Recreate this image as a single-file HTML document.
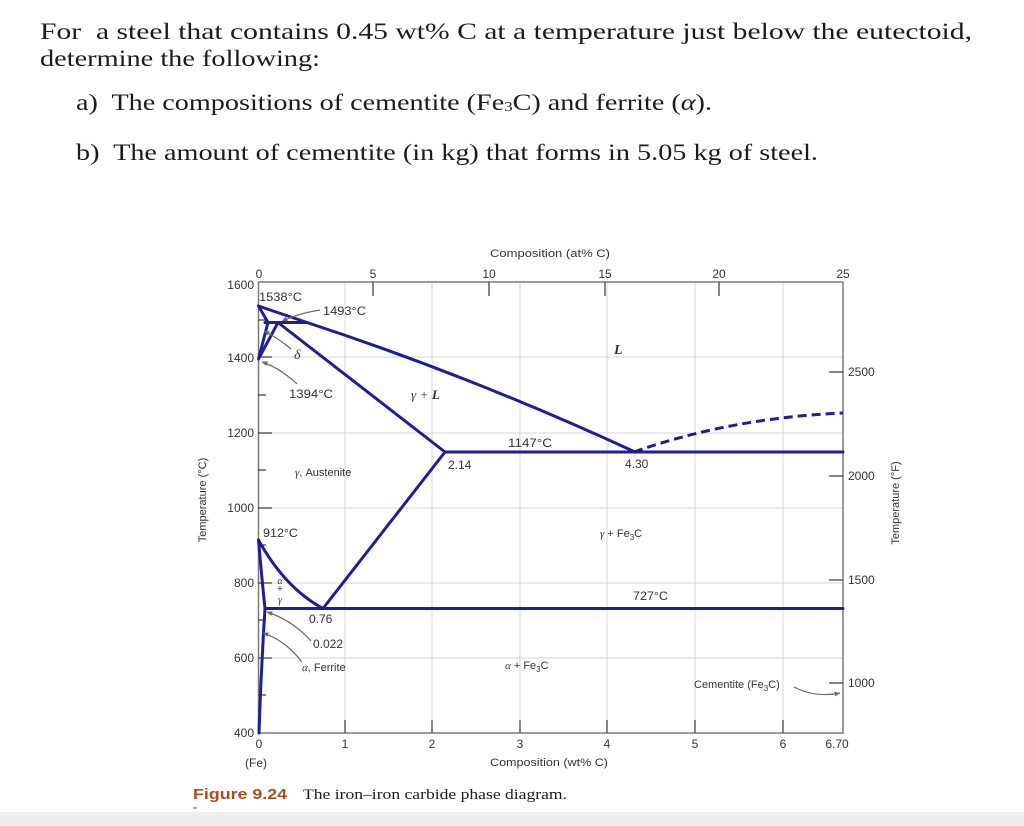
<!DOCTYPE html>
<html><head><meta charset="utf-8"><style>
html,body{margin:0;padding:0;background:#fff;}
svg{display:block;}
text{white-space:pre;}
</style></head><body>
<svg width="1024" height="826" viewBox="0 0 1024 826" xmlns="http://www.w3.org/2000/svg">
<defs>
<marker id="ah" viewBox="0 0 10 10" refX="9" refY="5" markerWidth="6" markerHeight="6" orient="auto-start-reverse" markerUnits="userSpaceOnUse">
<path d="M0,1 L10,5 L0,9 z" fill="#6a6a6a"/>
</marker>
</defs>
<rect width="1024" height="826" fill="#fff"/>
<rect y="812" width="1024" height="14" fill="#efefef"/>

<g font-family="Liberation Serif, serif" font-size="23.5" fill="#1b1b1b">
<text x="40" y="39" textLength="932" lengthAdjust="spacingAndGlyphs">For  a steel that contains 0.45 wt% C at a temperature just below the eutectoid,</text>
<text x="40" y="66" textLength="280" lengthAdjust="spacingAndGlyphs">determine the following:</text>
<text x="76" y="110" textLength="636" lengthAdjust="spacingAndGlyphs">a)  The compositions of cementite (Fe<tspan font-size="14" dy="1">3</tspan><tspan dy="-1">C) and ferrite (</tspan><tspan font-style="italic">α</tspan>).</text>
<text x="76" y="160" textLength="742" lengthAdjust="spacingAndGlyphs">b)  The amount of cementite (in kg) that forms in 5.05 kg of steel.</text>
</g>

<!-- grid -->
<g stroke="#d6d6d6" stroke-width="1">
<line x1="345" y1="282" x2="345" y2="733"/>
<line x1="432" y1="282" x2="432" y2="733"/>
<line x1="520" y1="282" x2="520" y2="733"/>
<line x1="607" y1="282" x2="607" y2="733"/>
<line x1="695" y1="282" x2="695" y2="733"/>
<line x1="783" y1="282" x2="783" y2="733"/>
<line x1="258" y1="357" x2="843" y2="357"/>
<line x1="258" y1="433" x2="843" y2="433"/>
<line x1="258" y1="508" x2="843" y2="508"/>
<line x1="258" y1="583" x2="843" y2="583"/>
<line x1="258" y1="658" x2="843" y2="658"/>
</g>

<!-- axes -->
<rect x="258.5" y="282" width="584.5" height="451" fill="none" stroke="#7a7a7a" stroke-width="1.5"/>

<g stroke="#444" stroke-width="1.3">
<line x1="258" y1="357" x2="272" y2="357"/>
<line x1="258" y1="433" x2="272" y2="433"/>
<line x1="258" y1="508" x2="272" y2="508"/>
<line x1="258" y1="583" x2="272" y2="583"/>
<line x1="258" y1="658" x2="272" y2="658"/>
<line x1="258" y1="320" x2="266" y2="320"/>
<line x1="258" y1="395" x2="266" y2="395"/>
<line x1="258" y1="470" x2="266" y2="470"/>
<line x1="258" y1="545" x2="266" y2="545"/>
<line x1="258" y1="620" x2="266" y2="620"/>
<line x1="258" y1="695" x2="266" y2="695"/>
<line x1="373" y1="282" x2="373" y2="296"/>
<line x1="489" y1="282" x2="489" y2="296"/>
<line x1="605" y1="282" x2="605" y2="296"/>
<line x1="719" y1="282" x2="719" y2="296"/>
<line x1="345" y1="720" x2="345" y2="733"/>
<line x1="432" y1="720" x2="432" y2="733"/>
<line x1="520" y1="720" x2="520" y2="733"/>
<line x1="607" y1="720" x2="607" y2="733"/>
<line x1="695" y1="720" x2="695" y2="733"/>
<line x1="783" y1="720" x2="783" y2="733"/>
<line x1="829" y1="372" x2="843" y2="372"/>
<line x1="829" y1="476" x2="843" y2="476"/>
<line x1="829" y1="580" x2="843" y2="580"/>
<line x1="829" y1="683" x2="843" y2="683"/>
</g>

<!-- phase lines -->
<g fill="none" stroke="#1e1e9a" stroke-width="3" stroke-linejoin="round" stroke-linecap="round">
<path d="M258.5,306 L307,322.5 Q470,376 634,451.5"/>
<polyline points="258.5,306 268,322.5 258.5,359 278,322.5"/>
<line x1="265" y1="322.5" x2="307" y2="322.5"/>
<line x1="278" y1="322.5" x2="445" y2="452"/>
<line x1="445" y1="452" x2="843" y2="452"/>
<line x1="445" y1="452" x2="323" y2="608.5"/>
<path d="M258.5,540 Q285,588 323,608.5"/>
<path d="M258.5,540 Q262,580 265,608.5"/>
<line x1="265" y1="608.5" x2="843" y2="608.5"/>
<path d="M265,608.5 Q261,670 259,733"/>
<path d="M634,452 Q730,418 843,413" stroke-dasharray="9 5" stroke-linecap="butt"/>
</g>

<!-- annotation arrows -->
<g fill="none" stroke="#6a6a6a" stroke-width="1.2">
<path d="M320,310 Q300,313 282,321" marker-end="url(#ah)"/>
<path d="M291,349 Q278,338 264,331" marker-end="url(#ah)"/>
<path d="M297,384 Q280,368 262,362" marker-end="url(#ah)"/>
<path d="M311,641 Q292,620 267,612" marker-end="url(#ah)"/>
<path d="M302,662 Q285,640 263,633" marker-end="url(#ah)"/>
<path d="M794,687 Q815,698 840,693" marker-end="url(#ah)"/>
</g>

<!-- axis labels -->
<g font-family="Liberation Sans, sans-serif" font-size="12" fill="#333">
<g text-anchor="end">
<text x="254" y="289">1600</text>
<text x="254" y="362">1400</text>
<text x="254" y="437">1200</text>
<text x="254" y="512">1000</text>
<text x="254" y="587">800</text>
<text x="254" y="662">600</text>
<text x="254" y="737">400</text>
</g>
<g text-anchor="middle">
<text x="259" y="278">0</text>
<text x="373" y="278">5</text>
<text x="489" y="278">10</text>
<text x="605" y="278">15</text>
<text x="719" y="278">20</text>
<text x="843" y="278">25</text>
<text x="259" y="748">0</text>
<text x="256" y="767">(Fe)</text>
<text x="345" y="748">1</text>
<text x="432" y="748">2</text>
<text x="520" y="748">3</text>
<text x="607" y="748">4</text>
<text x="695" y="748">5</text>
<text x="783" y="748">6</text>
<text x="837" y="748">6.70</text>
</g>
<text x="848" y="376">2500</text>
<text x="848" y="480">2000</text>
<text x="848" y="584">1500</text>
<text x="848" y="687">1000</text>
<text x="490" y="257" font-size="11" textLength="120" lengthAdjust="spacingAndGlyphs">Composition (at% C)</text>
<text x="490" y="766" font-size="11" textLength="118" lengthAdjust="spacingAndGlyphs">Composition (wt% C)</text>
<text transform="translate(206,500) rotate(-90)" text-anchor="middle" font-size="11">Temperature (°C)</text>
<text transform="translate(899,503) rotate(-90)" text-anchor="middle" font-size="11">Temperature (°F)</text>

<!-- in-plot labels -->
<text x="259" y="301" textLength="43" lengthAdjust="spacingAndGlyphs">1538°C</text>
<text x="323" y="315" textLength="43" lengthAdjust="spacingAndGlyphs">1493°C</text>
<text x="289" y="398" textLength="44" lengthAdjust="spacingAndGlyphs">1394°C</text>
<text x="508" y="447" textLength="44" lengthAdjust="spacingAndGlyphs">1147°C</text>
<text x="448" y="469">2.14</text>
<text x="625" y="468">4.30</text>
<text x="295" y="476" font-size="11"><tspan font-family="Liberation Serif, serif" font-style="italic">γ</tspan>, Austenite</text>
<text x="263" y="537" textLength="35" lengthAdjust="spacingAndGlyphs">912°C</text>
<text x="309" y="623">0.76</text>
<text x="313" y="648">0.022</text>
<text x="302" y="671" font-size="11"><tspan font-family="Liberation Serif, serif" font-style="italic">α</tspan>, Ferrite</text>
<text x="600" y="537" font-size="11"><tspan font-family="Liberation Serif, serif" font-style="italic">γ</tspan> + Fe<tspan font-size="8" dy="3">3</tspan><tspan dy="-3">C</tspan></text>
<text x="633" y="600" textLength="35" lengthAdjust="spacingAndGlyphs">727°C</text>
<text x="505" y="669" font-size="11"><tspan font-family="Liberation Serif, serif" font-style="italic">α</tspan> + Fe<tspan font-size="8" dy="3">3</tspan><tspan dy="-3">C</tspan></text>
<text x="694" y="688" font-size="11">Cementite (Fe<tspan font-size="8" dy="3">3</tspan><tspan dy="-3">C)</tspan></text>
</g>
<g font-family="Liberation Serif, serif" fill="#333" font-style="italic">
<text x="294" y="359" font-size="14">δ</text>
<text x="411" y="399" font-size="13" textLength="29" lengthAdjust="spacingAndGlyphs">γ + <tspan font-weight="bold">L</tspan></text>
<text x="614" y="354" font-size="14" font-weight="bold">L</text>
<text x="280" y="584" font-size="10" text-anchor="middle">α</text>
<text x="280" y="592" font-size="10" text-anchor="middle" font-style="normal" font-weight="bold">+</text>
<text x="280" y="603" font-size="10" text-anchor="middle">γ</text>
</g>

<!-- caption -->
<text x="193" y="799" font-family="Liberation Sans, sans-serif" font-weight="bold" font-size="15" fill="#a8501c" textLength="94" lengthAdjust="spacingAndGlyphs">Figure 9.24</text>
<text x="303" y="799" font-family="Liberation Serif, serif" font-size="14.5" fill="#1b1b1b" textLength="264" lengthAdjust="spacingAndGlyphs">The iron–iron carbide phase diagram.</text>
<line x1="193" y1="808" x2="197" y2="808" stroke="#555" stroke-width="1"/>
</svg>
</body></html>
